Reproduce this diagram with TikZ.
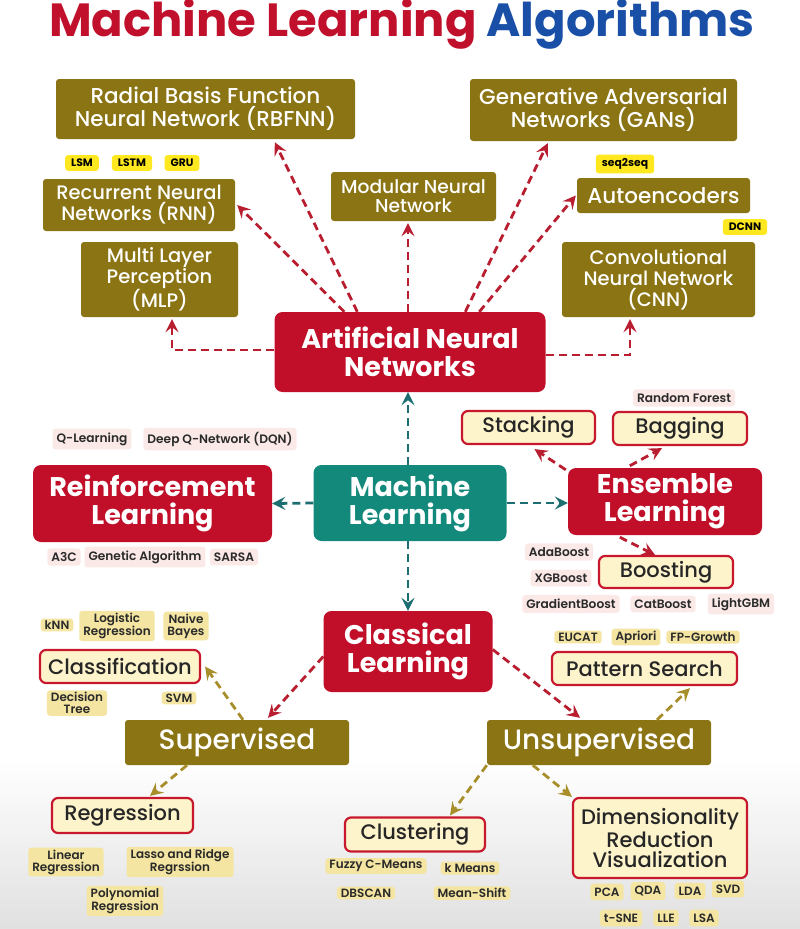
\documentclass[tikz,border=0pt]{standalone}
\usepackage{fontspec}
\setmainfont{Poppins}
\newfontface\pmed{Poppins Medium}
\newfontface\psemi{Poppins SemiBold}
\usetikzlibrary{arrows.meta}
\definecolor{redc}{HTML}{C10F2A}
\definecolor{tealc}{HTML}{12897A}
\definecolor{olivec}{HTML}{8A7413}
\definecolor{creamc}{HTML}{FDF4CB}
\definecolor{redline}{HTML}{C8182D}
\definecolor{yelc}{HTML}{FFE81F}
\definecolor{pinkc}{HTML}{FBE9E8}
\definecolor{paleyel}{HTML}{F4E5A2}
\definecolor{arrred}{HTML}{B81E2F}
\definecolor{arrteal}{HTML}{1D6E70}
\definecolor{arrolive}{HTML}{A88E2A}
\definecolor{titlered}{HTML}{C0102B}
\definecolor{titleblue}{HTML}{1A4FA8}
\definecolor{tagtext}{HTML}{2A2A2A}
\tikzset{
  boxbase/.style={rounded corners=3pt, inner sep=0pt, align=center},
  olivebox/.style={boxbase, fill=olivec, text=white, font=\pmed\fontsize{19.5}{21}\selectfont},
  bigolive/.style={boxbase, fill=olivec, text=white, font=\pmed\fontsize{28}{30}\selectfont},
  redbox/.style={boxbase, rounded corners=8pt, fill=redc, text=white, font=\bfseries\fontsize{27}{28}\selectfont},
  tealbox/.style={redbox, fill=tealc},
  creambox/.style={boxbase, rounded corners=6pt, fill=creamc, draw=redline, line width=2.2pt, text=black!85, font=\pmed\fontsize{21}{20}\selectfont},
  tagbase/.style={rounded corners=3pt, inner xsep=4pt, inner ysep=4pt, align=center, text=tagtext, font=\psemi\fontsize{12.2}{12}\selectfont},
  yeltag/.style={tagbase, fill=yelc, text=black, inner xsep=6pt, font=\bfseries\fontsize{10.8}{11}\selectfont},
  pinktag/.style={tagbase, fill=pinkc},
  paletag/.style={tagbase, inner ysep=2pt, fill=paleyel, font=\psemi\fontsize{12}{12}\selectfont},
  conn/.style={line width=2.8pt, dash pattern=on 8pt off 5pt, -{Stealth[length=13pt,width=13pt,inset=5pt]}},
  redarr/.style={conn, draw=arrred},
  tealarr/.style={conn, draw=arrteal},
  olivearr/.style={conn, draw=arrolive},
}
\begin{document}
\begin{tikzpicture}[x=1pt,y=-1pt]
\useasboundingbox (0,0) rectangle (800,929);
\fill[white] (0,0) rectangle (800,929);
\shade[top color=white, bottom color=black!12] (0,760) rectangle (800,929);

\node (title) at (402,24) {\bfseries\fontsize{46.5}{48}\selectfont\color{titlered}Machine Learning \color{titleblue}Algorithms};

% ANN children
\node[olivebox, minimum width=299pt, minimum height=60pt, font=\pmed\fontsize{21.5}{23}\selectfont] (rbf) at (205.5,109) {Radial Basis Function\\Neural Network (RBFNN)};
\node[olivebox, minimum width=192pt, minimum height=52pt] (rnn) at (139,205) {Recurrent Neural\\Networks (RNN)};
\node[olivebox, minimum width=157pt, minimum height=75pt] (mlp) at (159.5,279.5) {Multi Layer\\Perception\\(MLP)};
\node[olivebox, minimum width=165pt, minimum height=49pt, font=\pmed\fontsize{18.7}{19}\selectfont] (mod) at (413.5,196.5) {Modular Neural\\Network};
\node[olivebox, minimum width=267pt, minimum height=62pt, font=\pmed\fontsize{21.5}{23}\selectfont] (gan) at (603.5,110) {Generative Adversarial\\Networks (GANs)};
\node[olivebox, minimum width=173pt, minimum height=35pt, font=\pmed\fontsize{21.5}{21}\selectfont] (auto) at (663.5,195.5) {Autoencoders};
\node[olivebox, minimum width=193pt, minimum height=75pt] (cnn) at (658.5,279.5) {Convolutional\\Neural Network\\(CNN)};

\node[yeltag] (lsm) at (82,163) {LSM};
\node[yeltag] (lstm) at (132,163) {LSTM};
\node[yeltag] (gru) at (182,163) {GRU};
\node[yeltag] (s2s) at (625,164) {seq2seq};
\node[yeltag] (dcnn) at (745,227) {DCNN};

% main boxes
\node[redbox, minimum width=271pt, minimum height=80pt] (ann) at (410,352) {Artificial Neural\\Networks};
\node[tealbox, minimum width=193pt, minimum height=76pt] (ml) at (410,503) {Machine\\Learning};
\node[redbox, minimum width=239pt, minimum height=77pt] (rl) at (152.5,503.5) {Reinforcement\\Learning};
\node[redbox, minimum width=194pt, minimum height=67pt] (ens) at (665,501.5) {Ensemble\\Learning};
\node[redbox, minimum width=169pt, minimum height=81pt] (cl) at (408,651.5) {Classical\\Learning};

% RL tags
\node[pinktag] (ql) at (92,439) {Q-Learning};
\node[pinktag] (dqn) at (220,439) {Deep Q-Network (DQN)};
\node[pinktag] (a3c) at (64,557) {A3C};
\node[pinktag] (gen) at (145,557) {Genetic Algorithm};
\node[pinktag] (sarsa) at (234,557) {SARSA};

% Ensemble
\node[creambox, minimum width=133pt, minimum height=33pt] (stk) at (528.5,427.5) {Stacking};
\node[creambox, minimum width=134pt, minimum height=33pt] (bag) at (680,428.5) {Bagging};
\node[creambox, minimum width=134pt, minimum height=32pt] (boo) at (666,572) {Boosting};
\node[pinktag] (rf) at (684,398) {Random Forest};
\node[pinktag] (ada) at (559,552) {AdaBoost};
\node[pinktag] (xgb) at (561,578) {XGBoost};
\node[pinktag] (gb) at (571,604) {GradientBoost};
\node[pinktag] (cat) at (663,604) {CatBoost};
\node[pinktag] (lgbm) at (741,604) {LightGBM};

% Classical
\node[bigolive, minimum width=224pt, minimum height=45pt] (sup) at (237,742.5) {Supervised};
\node[bigolive, minimum width=224pt, minimum height=45pt] (uns) at (599,742.5) {Unsupervised};
\node[creambox, minimum width=160pt, minimum height=33pt] (cls) at (120,666.5) {Classification};
\node[creambox, minimum width=141pt, minimum height=35pt] (reg) at (122.5,815.5) {Regression};
\node[creambox, minimum width=185pt, minimum height=33pt] (pat) at (644.5,668.5) {Pattern Search};
\node[creambox, minimum width=140pt, minimum height=34pt] (clu) at (415,834.5) {Clustering};
\node[creambox, minimum width=174pt, minimum height=80pt] (dim) at (660,838) {Dimensionality\\Reduction\\Visualization};

\node[paletag] (knn) at (57,625) {kNN};
\node[paletag] (logr) at (117,626) {Logistic\\Regression};
\node[paletag] (nb) at (186,626) {Naive\\Bayes};
\node[paletag] (dt) at (77,703) {Decision\\Tree};
\node[paletag] (svm) at (179,698) {SVM};
\node[paletag] (linr) at (66,862) {Linear\\Regression};
\node[paletag] (lasso) at (180,862) {Lasso and Ridge\\Regrssion};
\node[paletag] (poly) at (125,901) {Polynomial\\Regression};
\node[paletag] (eucat) at (578,637) {EUCAT};
\node[paletag] (apr) at (636,637) {Apriori};
\node[paletag] (fpg) at (703,637) {FP-Growth};
\node[paletag] (fcm) at (376,866) {Fuzzy C-Means};
\node[paletag] (km) at (470,868) {k Means};
\node[paletag] (dbs) at (366,893) {DBSCAN};
\node[paletag] (ms) at (472,893) {Mean-Shift};
\node[paletag, inner ysep=4pt] (pca) at (607,892) {PCA};
\node[paletag, inner ysep=4pt] (qda) at (648,891) {QDA};
\node[paletag, inner ysep=4pt] (lda) at (690,891) {LDA};
\node[paletag, inner ysep=4pt] (svd) at (728,889) {SVD};
\node[paletag, inner ysep=4pt] (tsne) at (621,918) {t-SNE};
\node[paletag, inner ysep=4pt] (lle) at (666,918) {LLE};
\node[paletag, inner ysep=4pt] (lsa) at (704,918) {LSA};

% ANN connectors
\draw[redarr] ([xshift=83pt]ann.north west) -- ([xshift=219pt,yshift=-3pt]rbf.south west);
\draw[redarr] ([xshift=70pt]ann.north west) -- ([xshift=2pt]rnn.east);
\draw[redarr] ([xshift=-2pt]ann.north) -- ([xshift=-5.5pt,yshift=-2pt]mod.south);
\draw[redarr] ([xshift=191pt]ann.north west) -- ([xshift=78pt,yshift=-2pt]gan.south west);
\draw[redarr] ([xshift=205pt]ann.north west) -- ([xshift=-1pt]auto.west);
\draw[redarr] ([yshift=2pt]ann.west) -| ([xshift=12.5pt,yshift=-2pt]mlp.south);
\draw[redarr] ([yshift=-3pt]ann.east) -| ([xshift=-28.5pt,yshift=-2pt]cnn.south);

% ML connectors
\draw[tealarr] ([xshift=-2pt]ml.north) -- ([xshift=-2pt]ann.south);
\draw[tealarr] (ml.west) -- (rl.east);
\draw[tealarr] (ml.east) -- (ens.west |- ml.east);
\draw[tealarr] ([xshift=-2pt]ml.south) -- ([xshift=-2pt]ml.south |- cl.north);

% Ensemble connectors
\draw[redarr] ([xshift=-2pt,yshift=-2pt]ens.north west) -- ([xshift=6pt,yshift=-4pt]stk.south);
\draw[redarr] ([xshift=62pt,yshift=2pt]ens.north west) -- ([xshift=-18pt,yshift=-2pt]bag.south);
\draw[redarr] ([xshift=52pt,yshift=-2pt]ens.south west) -- ([xshift=-11pt]boo.north);

% Classical connectors
\draw[redarr] ([yshift=-5pt]cl.west) -- ([xshift=31pt,yshift=2pt]sup.north);
\draw[redarr] ([yshift=2pt]cl.east) -- ([xshift=-19pt,yshift=2pt]uns.north);
\draw[olivearr] ([xshift=6pt]sup.north) -- ([xshift=4pt]cls.east);
\draw[olivearr] ([xshift=-50pt]sup.south) -- ([xshift=27.5pt,yshift=1pt]reg.north);
\draw[olivearr] ([xshift=58pt]uns.north) -- ([xshift=45.5pt,yshift=-2pt]pat.south);
\draw[olivearr] (uns.south west) -- ([xshift=35pt,yshift=1pt]clu.north);
\draw[olivearr] ([xshift=46pt]uns.south west) -- (dim.north west);
\end{tikzpicture}
\end{document}
